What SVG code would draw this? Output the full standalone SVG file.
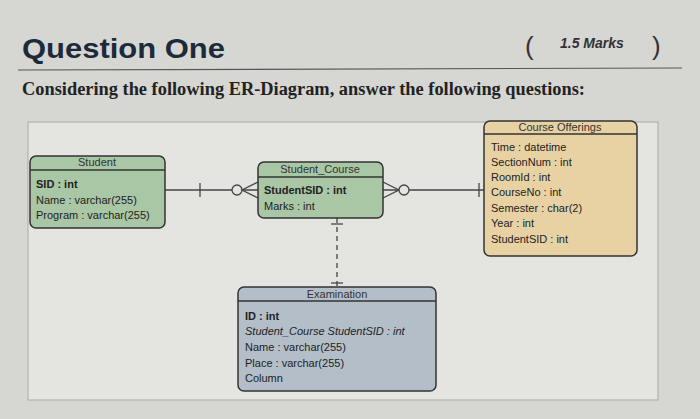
<svg xmlns="http://www.w3.org/2000/svg" width="700" height="419" viewBox="0 0 700 419">
<style>
.t{font-family:"Liberation Sans",Arial,sans-serif;font-size:11px;fill:#222}
.b{font-weight:bold}
.h{font-family:"Liberation Sans",Arial,sans-serif;font-size:11px;fill:#333;text-anchor:middle}
.box{stroke:#333;stroke-width:1.5}
.ln{stroke:#444;stroke-width:1.3;fill:none}
</style>
<rect width="700" height="419" fill="#d6d6d3"/>
<text x="22" y="58" font-family="Liberation Sans,Arial,sans-serif" font-size="28" font-weight="bold" fill="#1c2a3a" textLength="203" lengthAdjust="spacingAndGlyphs">Question One</text>
<text x="525" y="55" font-family="Liberation Sans,Arial,sans-serif" font-size="26" fill="#333">(</text>
<text x="560" y="48" font-family="Liberation Sans,Arial,sans-serif" font-size="14" font-weight="bold" font-style="italic" fill="#333">1.5 Marks</text>
<text x="652" y="55" font-family="Liberation Sans,Arial,sans-serif" font-size="26" fill="#333">)</text>
<line x1="18" y1="70" x2="682" y2="68" stroke="#555" stroke-width="1.2"/>
<text x="22" y="95" font-family="Liberation Serif,Times New Roman,serif" font-size="18" font-weight="bold" fill="#222" textLength="563" lengthAdjust="spacingAndGlyphs">Considering the following ER-Diagram, answer the following questions:</text>
<rect x="28" y="122" width="630" height="278" fill="#e4e4e1" stroke="#aaa"/>
<g id="connectors">
<line class="ln" x1="165" y1="190" x2="258" y2="190"/>
<line class="ln" x1="200" y1="183" x2="200" y2="197"/>
<circle cx="237" cy="190" r="5" fill="#e4e4e1" stroke="#444" stroke-width="1.3"/>
<path class="ln" d="M258 182 L242 190 L258 198"/>
<line class="ln" x1="383" y1="190" x2="484" y2="190"/>
<path class="ln" d="M383 182 L399 190 L383 198"/>
<circle cx="404" cy="190" r="5" fill="#e4e4e1" stroke="#444" stroke-width="1.3"/>
<line class="ln" x1="479" y1="183" x2="479" y2="197"/>
<line class="ln" x1="337" y1="218" x2="337" y2="287" stroke-dasharray="5,4"/>
<line class="ln" x1="331" y1="224" x2="343" y2="224"/>
<line class="ln" x1="331" y1="283" x2="343" y2="283"/>
</g>
<g id="student">
<rect class="box" x="30" y="156" width="135" height="72" rx="6" fill="#a9c6a5"/>
<line class="box" x1="30" y1="170" x2="165" y2="170"/>
<text class="h" x="97" y="166">Student</text>
<text class="t b" x="36" y="188">SID : int</text>
<text class="t" x="36" y="204">Name : varchar(255)</text>
<text class="t" x="36" y="219">Program : varchar(255)</text>
</g>
<g id="student_course">
<rect class="box" x="258" y="162" width="125" height="56" rx="6" fill="#a9c6a5"/>
<line class="box" x1="258" y1="177" x2="383" y2="177"/>
<text class="h" x="320" y="173">Student_Course</text>
<text class="t b" x="264" y="194">StudentSID : int</text>
<text class="t" x="264" y="210">Marks : int</text>
</g>
<g id="course_offerings">
<rect class="box" x="484" y="121" width="153" height="135" rx="6" fill="#e8d2a4"/>
<line class="box" x1="484" y1="134" x2="637" y2="134"/>
<text class="h" x="560" y="131">Course Offerings</text>
<text class="t" x="491" y="151">Time : datetime</text>
<text class="t" x="491" y="166">SectionNum : int</text>
<text class="t" x="491" y="181">RoomId : int</text>
<text class="t" x="491" y="196">CourseNo : int</text>
<text class="t" x="491" y="212">Semester : char(2)</text>
<text class="t" x="491" y="227">Year : int</text>
<text class="t" x="491" y="243">StudentSID : int</text>
</g>
<g id="examination">
<rect class="box" x="238" y="287" width="198" height="104" rx="6" fill="#b3bec9"/>
<line class="box" x1="238" y1="301" x2="436" y2="301"/>
<text class="h" x="337" y="298">Examination</text>
<text class="t b" x="245" y="320">ID : int</text>
<text class="t" x="245" y="335" font-style="italic">Student_Course StudentSID : int</text>
<text class="t" x="245" y="351">Name : varchar(255)</text>
<text class="t" x="245" y="367">Place : varchar(255)</text>
<text class="t" x="245" y="382">Column</text>
</g>
</svg>
